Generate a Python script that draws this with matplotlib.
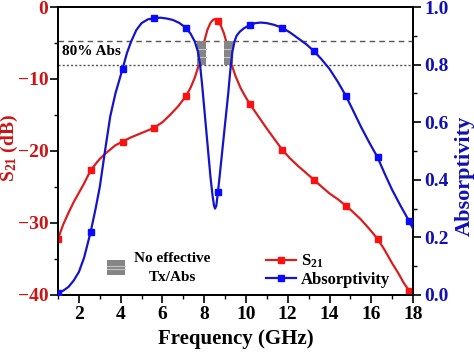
import matplotlib
matplotlib.use("Agg")
import matplotlib.pyplot as plt
from matplotlib.patches import Rectangle
from matplotlib.lines import Line2D
from matplotlib.ticker import MultipleLocator

plt.rcParams['font.family'] = ['Liberation Serif', 'DejaVu Serif']
plt.rcParams['font.weight'] = 'bold'
plt.rcParams['axes.labelweight'] = 'bold'
plt.rcParams['mathtext.fontset'] = 'custom'
plt.rcParams['mathtext.rm'] = 'Liberation Serif:bold'
plt.rcParams['mathtext.bf'] = 'Liberation Serif:bold'
plt.rcParams['mathtext.it'] = 'Liberation Serif:bold:italic'
plt.rcParams['mathtext.default'] = 'rm'

# S21 curve (dB)
s21_freq = [1.0, 1.25, 1.5, 1.75, 2.0, 2.25, 2.56, 2.8, 3.0, 3.25, 3.5, 3.75, 4.09,
            4.5, 5.0, 5.59, 6.0, 6.36, 6.75, 7.12, 7.35, 7.55, 7.75, 7.9, 8.0,
            8.15, 8.3, 8.42, 8.52, 8.6, 8.66, 8.8, 8.95, 9.1, 9.3, 9.5, 9.75,
            10.0, 10.19, 10.5, 11.0, 11.35, 11.73, 12.1, 12.5, 12.9, 13.25, 13.6,
            14.0, 14.4, 14.78, 15.1, 15.5, 15.9, 16.3, 16.65, 17.0, 17.3, 17.55,
            17.81, 18.0]
s21_db = [-32.2, -30.2, -28.6, -27.1, -25.8, -24.5, -22.7, -21.8, -21.1, -20.4,
          -19.8, -19.2, -18.7, -18.1, -17.5, -16.8, -16.0, -15.0, -13.8, -12.4,
          -11.2, -9.8, -8.0, -6.0, -4.8, -3.2, -2.2, -1.8, -1.67, -1.75, -2.0,
          -2.6, -3.7, -5.3, -7.9, -9.6, -11.3, -12.6, -13.5, -14.8, -16.9, -18.3,
          -19.8, -21.0, -22.1, -23.1, -24.0, -24.9, -25.9, -26.7, -27.6, -28.4,
          -29.5, -30.8, -32.2, -33.8, -35.6, -37.0, -38.3, -39.4, -40.6]

# absorptivity curve
abs_freq = [1.0, 1.25, 1.5, 1.75, 2.0, 2.25, 2.56, 2.8, 3.0, 3.25, 3.5, 3.75, 4.09,
            4.3, 4.5, 4.75, 5.0, 5.3, 5.59, 5.9, 6.2, 6.5, 6.8, 7.12, 7.35, 7.55,
            7.7, 7.8, 7.9, 8.0, 8.1, 8.2, 8.3, 8.4, 8.47, 8.52, 8.58, 8.66, 8.75,
            8.85, 8.95, 9.05, 9.15, 9.25, 9.35, 9.45, 9.55, 9.7, 9.9, 10.19, 10.45,
            10.7, 11.0, 11.35, 11.73, 12.1, 12.5, 12.9, 13.25, 13.6, 14.0, 14.4,
            14.78, 15.1, 15.5, 15.9, 16.3, 16.65, 17.0, 17.4, 17.81, 18.0]
abs_val = [0.007, 0.015, 0.028, 0.05, 0.08, 0.13, 0.218, 0.30, 0.375, 0.50, 0.62,
           0.70, 0.785, 0.84, 0.88, 0.92, 0.944, 0.957, 0.961, 0.963, 0.960, 0.955,
           0.945, 0.928, 0.907, 0.88, 0.845, 0.80, 0.73, 0.65, 0.57, 0.49, 0.41,
           0.345, 0.31, 0.30, 0.31, 0.358, 0.42, 0.49, 0.56, 0.63, 0.70, 0.78,
           0.845, 0.88, 0.90, 0.914, 0.926, 0.9375, 0.944, 0.946, 0.944, 0.938,
           0.928, 0.912, 0.891, 0.87, 0.847, 0.82, 0.785, 0.74, 0.692, 0.645,
           0.585, 0.53, 0.478, 0.42, 0.365, 0.31, 0.257, 0.23]

# marker positions
mk_freq = [1.0, 2.56, 4.09, 5.59, 7.12, 8.66, 10.19, 11.73, 13.25, 14.78, 16.3, 17.81]
s21_mk = [-32.2, -22.7, -18.7, -16.8, -12.4, -2.0, -13.5, -19.8, -24.0, -27.6, -32.2, -39.4]
abs_mk = [0.007, 0.218, 0.785, 0.961, 0.928, 0.358, 0.9375, 0.928, 0.847, 0.692, 0.478, 0.257]

# reference levels and "no effective" bands
abs_hi = 0.883
abs_lo = 0.80
bands = [(7.66, 8.07), (8.94, 9.36)]

red = '#d81e1e'
blue = '#1414c8'
red_txt = '#cc1414'
blue_txt = '#1010b4'
gray = '#858585'

fig = plt.figure(figsize=(4.74, 3.59), dpi=100)
ax = fig.add_axes([0.1224, 0.1783, 0.7490, 0.8022])
ax2 = ax.twinx()

ax.plot(s21_freq, s21_db, color=red, lw=1.6, zorder=3)
ax.plot(mk_freq, s21_mk, 's', color='#ff1010', ms=4.2, zorder=4)
ax2.plot(abs_freq, abs_val, color=blue, lw=1.6, zorder=3)
ax2.plot(mk_freq, abs_mk, 's', color='#0a0aff', ms=4.2, zorder=4)

ax2.axhline(abs_hi, color='#555555', lw=1.0, ls=(0, (4, 3)), zorder=1)
ax2.axhline(abs_lo, color='#555555', lw=1.0, ls=(0, (1.5, 1.5)), zorder=1)

for x0, x1 in bands:
    ax2.add_patch(Rectangle((x0, abs_lo), x1 - x0, abs_hi - abs_lo,
                            facecolor=gray, edgecolor='none', zorder=2))
    for yy in (0.854, 0.825):
        ax2.plot([x0, x1], [yy, yy], color='#c4c4c4', lw=0.8, zorder=2)

ax2.text(1.19, 0.844, '80% Abs', fontsize=11, va='center', ha='left')

# "No effective Tx/Abs" key
ax2.add_patch(Rectangle((0.138, 0.069), 0.0507, 0.052, transform=ax2.transAxes,
                        facecolor=gray, edgecolor='none', clip_on=False))
for yy in (0.102, 0.090):
    ax2.plot([0.138, 0.1887], [yy, yy], transform=ax2.transAxes,
             color='#c4c4c4', lw=0.8)
ax2.text(0.321, 0.125, 'No effective', fontsize=11, ha='center', va='center',
         transform=ax2.transAxes)
ax2.text(0.321, 0.059, 'Tx/Abs', fontsize=11, ha='center', va='center',
         transform=ax2.transAxes)

handles = [Line2D([], [], color=red, lw=1.6, marker='s', ms=4.2, mfc='#ff1010', mec='#ff1010'),
           Line2D([], [], color=blue, lw=1.6, marker='s', ms=4.2, mfc='#0a0aff', mec='#0a0aff')]
ax2.legend(handles, ['S$_{21}$', 'Absorptivity'], loc='upper left',
           bbox_to_anchor=(0.586, 0.148), frameon=False, fontsize=12,
           handlelength=1.8, handletextpad=0.3, labelspacing=0.15,
           borderpad=0, borderaxespad=0, markerscale=1.0)

ax.set_xlim(1, 18)
ax.set_ylim(-40, 0)
ax2.set_ylim(0, 1.0)

ax.xaxis.set_minor_locator(MultipleLocator(1))
ax.set_xticks(range(2, 19, 2))
ax.yaxis.set_major_locator(MultipleLocator(10))
ax.yaxis.set_minor_locator(MultipleLocator(5))
ax2.yaxis.set_minor_locator(MultipleLocator(0.1))
ax2.set_yticks([0.0, 0.2, 0.4, 0.6, 0.8, 1.0])
ax2.set_yticklabels(['0.0', '0.2', '0.4', '0.6', '0.8', '1.0'])

for a in (ax, ax2):
    a.tick_params(which='major', direction='out', length=6, width=1.2, labelsize=14)
    a.tick_params(which='minor', direction='out', length=3, width=1.0)
    for s in a.spines.values():
        s.set_linewidth(1.3)
ax.tick_params(axis='x', which='both', top=False, pad=2)
ax.tick_params(axis='y', which='both', colors='black', labelcolor=red_txt, pad=1)
ax2.tick_params(axis='y', which='both', colors='black', labelcolor=blue_txt, pad=2)

ax.set_xlabel('Frequency (GHz)', fontsize=15, labelpad=4)
ax.set_ylabel('S$_{21}$ (dB)', fontsize=14, color=red_txt)
ax.yaxis.set_label_coords(-0.108, 0.51)
ax2.set_ylabel('Absorptivity', fontsize=16, color=blue_txt)
ax2.yaxis.set_label_coords(1.118, 0.415)

fig.savefig('out.png', dpi=100)
